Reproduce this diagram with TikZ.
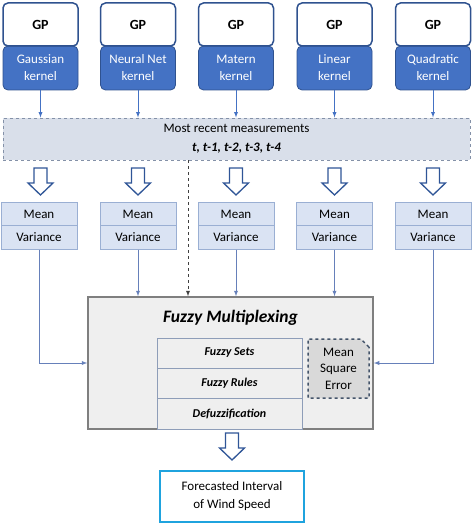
\documentclass[tikz,border=0pt]{standalone}
\usepackage{fontspec}
\setmainfont{Carlito}
\usetikzlibrary{shapes.misc}
\definecolor{gpedge}{HTML}{2F528F}
\definecolor{kernelblue}{HTML}{4472C4}
\definecolor{measfill}{HTML}{D9DFEA}
\definecolor{measedge}{HTML}{8491A8}
\definecolor{mvfill}{HTML}{DAE3F3}
\definecolor{mvedge}{HTML}{9AAFD3}
\definecolor{varline}{HTML}{6680BA}
\definecolor{hollowedge}{HTML}{2F5597}
\definecolor{fuzzfill}{HTML}{EFEFEF}
\definecolor{fuzzedge}{HTML}{7F7F7F}
\definecolor{rowedge}{HTML}{8E9DB8}
\definecolor{msefill}{HTML}{D9D9D9}
\definecolor{mseedge}{HTML}{44546A}
\definecolor{forecastedge}{HTML}{1FA3DE}
% block arrow hanging down from a named coordinate
\newcommand{\hollowarrow}[1]{\draw [hollow] (#1) ++(-6.5pt, 0pt) -- ++(0pt, -15pt) -- ++(-6pt, 0pt) -- ++(12.5pt, -12pt) -- ++(12.5pt, 12pt) -- ++(-6pt, 0pt) -- ++(0pt, 15pt) -- cycle;}
\begin{document}
\begin{tikzpicture}
[every node/.style={inner sep=0pt, font=\fontsize{13pt}{17pt}\selectfont},
 >=latex,
 gp/.style={rectangle, rounded corners=5pt, minimum width=75pt, minimum height=43pt, fill=white, line width=1.5pt, draw=gpedge, font=\fontsize{14pt}{17pt}\selectfont\bfseries},
 kernel/.style={rectangle, rounded corners=5pt, minimum width=75pt, minimum height=44pt, fill=kernelblue, line width=0.8pt, draw=gpedge, text=white, align=center},
 meas/.style={rectangle, minimum width=467pt, minimum height=42pt, fill=measfill, line width=1pt, draw=measedge, dashed, align=center, font=\fontsize{13pt}{19pt}\selectfont},
 hollow/.style={fill=white, line width=1.3pt, draw=hollowedge, line join=miter},
 mv/.style={rectangle, minimum width=76pt, minimum height=23.5pt, fill=mvfill, line width=0.8pt, draw=mvedge},
 fuzzbox/.style={rectangle, minimum width=285pt, minimum height=132pt, fill=fuzzfill, line width=1.5pt, draw=fuzzedge},
 row/.style={rectangle, minimum width=145pt, minimum height=30pt, fill=fuzzfill, line width=0.8pt, draw=rowedge, font=\fontsize{12pt}{14pt}\selectfont\bfseries\itshape},
 mse/.style={chamfered rectangle, chamfered rectangle corners=north east, chamfered rectangle xsep=5pt, minimum width=61pt, minimum height=59pt, fill=msefill, line width=1.5pt, draw=mseedge, dashed, align=center, font=\fontsize{13pt}{16.5pt}\selectfont},
 forecast/.style={rectangle, minimum width=144pt, minimum height=51pt, fill=white, line width=2pt, draw=forecastedge, align=center, font=\fontsize{13pt}{18pt}\selectfont},
 blueline/.style={line width=0.9pt, color=kernelblue},
 greyline/.style={line width=0.9pt, color=varline}]
\useasboundingbox (0pt, 0pt) rectangle (474pt, -524pt);
% kernels
\node (k1) [kernel] at (40.5pt, -68pt) {Gaussian\\kernel};
\node (k2) [kernel] at (138pt, -68pt) {Neural Net\\kernel};
\node (k3) [kernel] at (236pt, -68pt) {Matern\\kernel};
\node (k4) [kernel] at (334.5pt, -68pt) {Linear\\kernel};
\node (k5) [kernel] at (433pt, -68pt) {Quadratic\\kernel};
\node (gp1) [gp] at (40.5pt, -24.5pt) {GP};
\node (gp2) [gp] at (138pt, -24.5pt) {GP};
\node (gp3) [gp] at (236pt, -24.5pt) {GP};
\node (gp4) [gp] at (334.5pt, -24.5pt) {GP};
\node (gp5) [gp] at (433pt, -24.5pt) {GP};
% measurements
\node (meas) [meas] at (236.5pt, -139pt) {Most recent measurements\\\textbf{\textit{t, t-1, t-2, t-3, t-4}}};
% mean and variance
\node (m1) [mv] at (39pt, -214pt) {Mean};
\node (m2) [mv] at (138pt, -214pt) {Mean};
\node (m3) [mv] at (236pt, -214pt) {Mean};
\node (m4) [mv] at (334.5pt, -214pt) {Mean};
\node (m5) [mv] at (433pt, -214pt) {Mean};
\node (v1) [mv] at (39pt, -237.5pt) {Variance};
\node (v2) [mv] at (138pt, -237.5pt) {Variance};
\node (v3) [mv] at (236pt, -237.5pt) {Variance};
\node (v4) [mv] at (334.5pt, -237.5pt) {Variance};
\node (v5) [mv] at (433pt, -237.5pt) {Variance};
% fuzzy multiplexing
\node (fuzzy) [fuzzbox] at (230.5pt, -363pt) {};
\node (title) at (230.5pt, -318pt) {\fontsize{17.5pt}{20pt}\selectfont\bfseries\itshape Fuzzy Multiplexing};
\node (sets) [row] at (229.5pt, -353pt) {Fuzzy Sets};
\node (rules) [row] at (229.5pt, -383pt) {Fuzzy Rules};
\node (defuzz) [row, minimum height=31pt] at (229.5pt, -413.5pt) {Defuzzification};
\node (mse) [mse] at (338.5pt, -368.5pt) {Mean\\Square\\Error};
\node (out) [forecast] at (232pt, -496.5pt) {Forecasted Interval\\of Wind Speed};
\coordinate (ha1) at (40.5pt, -168pt);
\coordinate (ha2) at (138pt, -168pt);
\coordinate (ha3) at (236pt, -168pt);
\coordinate (ha4) at (334.5pt, -168pt);
\coordinate (ha5) at (433pt, -168pt);
\coordinate (ha6) at (232pt, -433pt);
\coordinate (tap) at (188pt, -160pt);
% connectors
\draw [blueline, ->] (k1) to (k1 |- meas.north);
\draw [blueline, ->] (k2) to (k2 |- meas.north);
\draw [blueline, ->] (k3) to (k3 |- meas.north);
\draw [blueline, ->] (k4) to (k4 |- meas.north);
\draw [blueline, ->] (k5) to (k5 |- meas.north);
\hollowarrow{ha1}
\hollowarrow{ha2}
\hollowarrow{ha3}
\hollowarrow{ha4}
\hollowarrow{ha5}
\hollowarrow{ha6}
\draw [greyline, ->] (v1) |- (fuzzy.west);
\draw [greyline, ->] (v2) to (v2 |- fuzzy.north);
\draw [greyline, ->] (v3) to (v3 |- fuzzy.north);
\draw [greyline, ->] (v4) to (v4 |- fuzzy.north);
\draw [greyline, ->] (v5) |- (fuzzy.east);
\draw [line width=0.9pt, color=darkgray, dashed, ->] (tap) to (tap |- fuzzy.north);
\end{tikzpicture}
\end{document}
